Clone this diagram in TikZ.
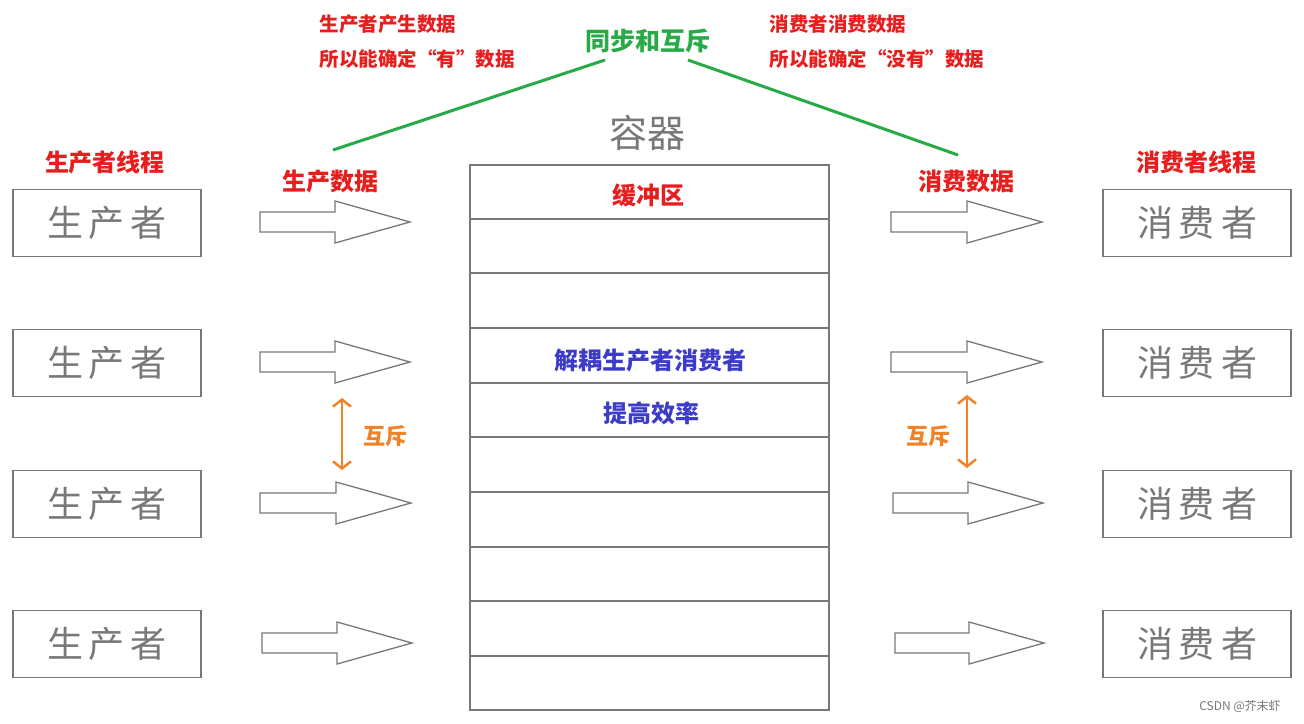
\documentclass[tikz,border=0pt]{standalone}
\usepackage{fontspec}
\newfontfamily\cjk{Noto Sans CJK SC}
\usetikzlibrary{arrows.meta}
\definecolor{myred}{RGB}{230,30,30}
\definecolor{mygreen}{RGB}{40,170,70}
\definecolor{myblue}{RGB}{60,60,200}
\definecolor{myorange}{RGB}{240,130,40}
\definecolor{mygray}{RGB}{120,120,120}
\tikzset{
  actor/.style={draw=mygray,line width=1.6pt,minimum width=188pt,minimum height=67pt,inner sep=0pt,font=\cjk\fontsize{36}{36}\selectfont,text=mygray},
  redlbl/.style={font=\cjk\bfseries\fontsize{24}{24}\selectfont,text=myred},
  smallred/.style={font=\cjk\bfseries\fontsize{19.5}{19.5}\selectfont,text=myred,anchor=west},
  bluelbl/.style={font=\cjk\bfseries\fontsize{24}{24}\selectfont,text=myblue},
  orlbl/.style={font=\cjk\bfseries\fontsize{22}{22}\selectfont,text=myorange},
  blockarrow/.style={draw=mygray,line width=1.3pt,fill=white},
}
\newcommand{\barrow}[3]{% x1 x2 y
  \draw[blockarrow] (#1,#3-10) -- (#2-75,#3-10) -- (#2-75,#3-21) -- (#2,#3) -- (#2-75,#3+21) -- (#2-75,#3+10) -- (#1,#3+10) -- cycle;}
\begin{document}
\begin{tikzpicture}[x=1pt,y=-1pt]
\useasboundingbox (0,0) rectangle (1304,723);
\fill[white] (0,0) rectangle (1304,723);
\foreach \y/\n in {223/1,363/2,504/3,644/4}{
  \node[actor] (p\n) at (107,\y) {生\,产\,者};
  \node[actor] (c\n) at (1197,\y) {消\,费\,者};
}
\barrow{260}{410}{222}
\barrow{260}{410}{362}
\barrow{260}{411}{503}
\barrow{262}{412}{643}
\barrow{891}{1042}{222}
\barrow{891}{1042}{362}
\barrow{893}{1043}{503}
\barrow{895}{1044}{643}
\draw[mygray,line width=1.6pt] (470,165) rectangle (829,710);
\foreach \y in {219,273,328,383,437,492,547,601,656}{\draw[mygray,line width=1.6pt] (470,\y) -- (829,\y);}
\node[font=\cjk\fontsize{38}{38}\selectfont,text=mygray] (cont) at (647,133) {容器};
\node[redlbl] (buf) at (648,195) {缓冲区};
\node[bluelbl] (b1) at (650,360) {解耦生产者消费者};
\node[bluelbl] (b2) at (651,413) {提高效率};
\node[redlbl] (pt) at (105,162) {生产者线程};
\node[redlbl] (pd) at (330,181) {生产数据};
\node[redlbl] (cd) at (966,181) {消费数据};
\node[redlbl] (ct) at (1196,162) {消费者线程};
\node[smallred] (s1) at (316,24) {生产者产生数据};
\node[smallred] (s2) at (316,59) {所以能确定“有”数据};
\node[smallred] (s3) at (766,24) {消费者消费数据};
\node[smallred] (s4) at (766,59) {所以能确定“没有”数据};
\node[font=\cjk\bfseries\fontsize{25}{25}\selectfont,text=mygreen] (sync) at (648,41) {同步和互斥};
\coordinate (g1) at (333,150);
\coordinate (g2) at (958,155);
\draw[mygreen,line width=3pt] (g1) -- (605,60);
\draw[mygreen,line width=3pt] (688,60) -- (g2);
\coordinate (m1) at (342,398); \coordinate (m2) at (342,470);
\coordinate (m3) at (967,395); \coordinate (m4) at (967,468);
\draw[myorange,line width=2.5pt,{Straight Barb[length=7pt,width=18pt]}-{Straight Barb[length=7pt,width=18pt]}] (m1) -- (m2);
\draw[myorange,line width=2.5pt,{Straight Barb[length=7pt,width=18pt]}-{Straight Barb[length=7pt,width=18pt]}] (m3) -- (m4);
\node[orlbl] (mx1) at (385,436) {互斥};
\node[orlbl] (mx2) at (928,436) {互斥};
\node[font=\cjk\fontsize{12}{12}\selectfont,text=mygray] (wm) at (1240,706) {CSDN @芥末虾};
\end{tikzpicture}
\end{document}
